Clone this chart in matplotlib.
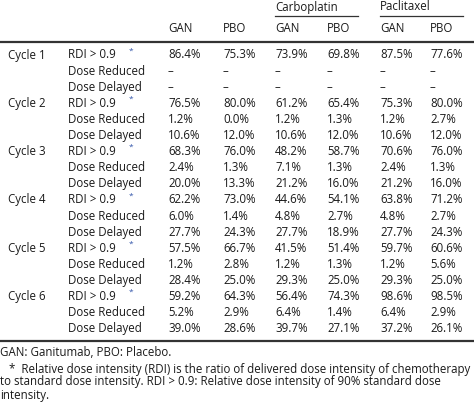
import matplotlib
matplotlib.use("Agg")
import matplotlib.pyplot as plt
from matplotlib.lines import Line2D

W, H = 474, 409
cycles = ["Cycle 1", "Cycle 2", "Cycle 3", "Cycle 4", "Cycle 5", "Cycle 6"]
measures = ["RDI > 0.9", "Dose Reduced", "Dose Delayed"]
col_heads = ["GAN", "PBO", "GAN", "PBO", "GAN", "PBO"]
groups = ["Carboplatin", "Paclitaxel"]
values = [
    ["86.4%", "75.3%", "73.9%", "69.8%", "87.5%", "77.6%"],
    ["–"] * 6,
    ["–"] * 6,
    ["76.5%", "80.0%", "61.2%", "65.4%", "75.3%", "80.0%"],
    ["1.2%", "0.0%", "1.2%", "1.3%", "1.2%", "2.7%"],
    ["10.6%", "12.0%", "10.6%", "12.0%", "10.6%", "12.0%"],
    ["68.3%", "76.0%", "48.2%", "58.7%", "70.6%", "76.0%"],
    ["2.4%", "1.3%", "7.1%", "1.3%", "2.4%", "1.3%"],
    ["20.0%", "13.3%", "21.2%", "16.0%", "21.2%", "16.0%"],
    ["62.2%", "73.0%", "44.6%", "54.1%", "63.8%", "71.2%"],
    ["6.0%", "1.4%", "4.8%", "2.7%", "4.8%", "2.7%"],
    ["27.7%", "24.3%", "27.7%", "18.9%", "27.7%", "24.3%"],
    ["57.5%", "66.7%", "41.5%", "51.4%", "59.7%", "60.6%"],
    ["1.2%", "2.8%", "1.2%", "1.3%", "1.2%", "5.6%"],
    ["28.4%", "25.0%", "29.3%", "25.0%", "29.3%", "25.0%"],
    ["59.2%", "64.3%", "56.4%", "74.3%", "98.6%", "98.5%"],
    ["5.2%", "2.9%", "6.4%", "1.4%", "6.4%", "2.9%"],
    ["39.0%", "28.6%", "39.7%", "27.1%", "37.2%", "26.1%"],
]
footnotes = [
    "GAN: Ganitumab, PBO: Placebo.",
    "   *  Relative dose intensity (RDI) is the ratio of delivered dose intensity of chemotherapy",
    "to standard dose intensity. RDI > 0.9: Relative dose intensity of 90% standard dose",
    "intensity.",
]

fig = plt.figure(figsize=(W / 100, H / 100), dpi=100)
fs = 8.3
fam = "Open Sans"

def T(x, y, s, **kw):
    kw.setdefault("fontsize", fs)
    kw.setdefault("family", fam)
    kw.setdefault("color", "#1a1a1a")
    fig.text(x / W, 1 - y / H, s, va="center", ha="left", **kw)

def L(x0, x1, y, lw):
    fig.add_artist(Line2D([x0 / W, x1 / W], [1 - y / H, 1 - y / H], color="#333333", lw=lw))

colx = [168, 223, 275, 327, 380, 430]
T(275, 7, groups[0]); T(380, 7, groups[1])
L(275, 358, 16, 0.9); L(380, 463, 16, 0.9)
for x, h in zip(colx, col_heads):
    T(x, 29, h)
L(0, 474, 42, 1.6)
y0, dy = 55, 16.1
for i, row in enumerate(values):
    y = y0 + i * dy
    if i % 3 == 0:
        T(8, y, cycles[i // 3])
    T(68, y, measures[i % 3])
    if i % 3 == 0:
        T(128.5, y - 4, "*", color="#3355aa", fontsize=6)
    for x, v in zip(colx, row):
        T(x, y, v)
L(0, 474, 341, 1.6)
for y, s in zip([352, 369, 382, 395], footnotes):
    T(0, y, s)

fig.savefig("out.png", dpi=100)
